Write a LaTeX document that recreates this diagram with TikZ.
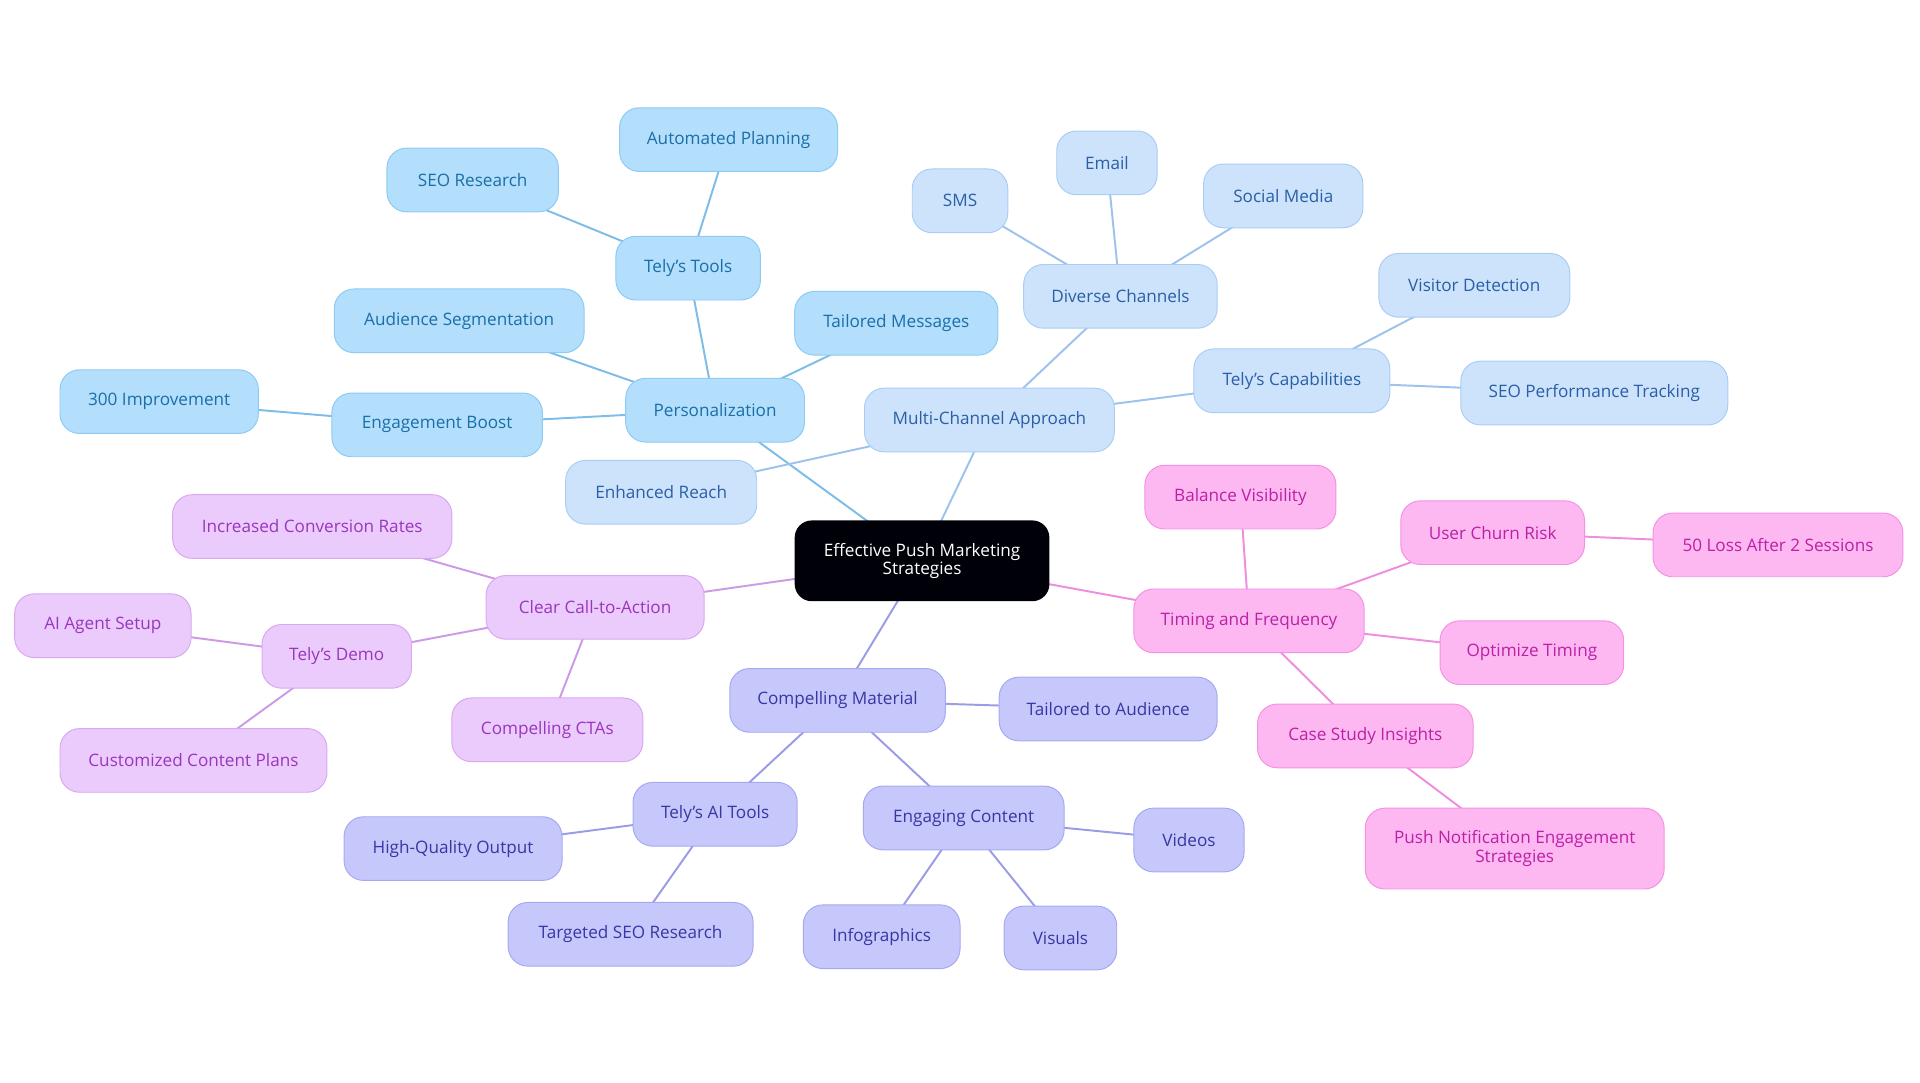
\documentclass[tikz,border=0pt]{standalone}
\usepackage{fontspec}
\setmainfont{Open Sans}
\usetikzlibrary{backgrounds}
\definecolor{bF}{HTML}{B3DEFC}\definecolor{bD}{HTML}{8CCBF4}\definecolor{bT}{HTML}{1A6FA8}\definecolor{bE}{HTML}{7EBDE8}
\definecolor{lF}{HTML}{CDE3FC}\definecolor{lD}{HTML}{A9CDF5}\definecolor{lT}{HTML}{2A5FA6}\definecolor{lE}{HTML}{9DC3EC}
\definecolor{pF}{HTML}{C6C8FB}\definecolor{pD}{HTML}{A6A9F2}\definecolor{pT}{HTML}{3A35A4}\definecolor{pE}{HTML}{9A9CE6}
\definecolor{vF}{HTML}{EBCBFB}\definecolor{vD}{HTML}{D8A8F0}\definecolor{vT}{HTML}{9A36BE}\definecolor{vE}{HTML}{CC9AE6}
\definecolor{kF}{HTML}{FDB8F2}\definecolor{kD}{HTML}{F491E4}\definecolor{kT}{HTML}{BC20A4}\definecolor{kE}{HTML}{EE8EDC}
\tikzset{
 box/.style={rounded corners=16pt,minimum height=52pt,inner sep=0pt,font=\fontsize{14}{15}\selectfont,line width=0.8pt,align=center},
 bb/.style={box,fill=bF,draw=bD,text=bT},
 ll/.style={box,fill=lF,draw=lD,text=lT},
 pp/.style={box,fill=pF,draw=pD,text=pT},
 vv/.style={box,fill=vF,draw=vD,text=vT},
 kk/.style={box,fill=kF,draw=kD,text=kT},
 ed/.style={line width=1.6pt}
}
\begin{document}
\begin{tikzpicture}[x=1pt,y=-1pt]
\useasboundingbox (0,0) rectangle (1568,884);
\node[box,fill=black!92!blue!40!black,draw=none,text=white,rounded corners=14pt,minimum width=208pt,minimum height=66pt,font=\fontsize{14}{15}\selectfont] (c) at (753,458) {Effective Push Marketing\\Strategies};
\node[bb,minimum width=146pt] (per) at (584,335) {Personalization};
\node[bb,minimum width=118pt] (tt) at (562,219) {Tely's Tools};
\node[bb,minimum width=140pt] (seo) at (386,147) {SEO Research};
\node[bb,minimum width=178pt] (ap) at (595,114) {Automated Planning};
\node[bb,minimum width=204pt] (as) at (375,262) {Audience Segmentation};
\node[bb,minimum width=166pt] (tm) at (732,264) {Tailored Messages};
\node[bb,minimum width=172pt] (eb) at (357,347) {Engagement Boost};
\node[bb,minimum width=162pt] (imp) at (130,328) {300 Improvement};
\node[ll,minimum width=204pt] (mc) at (808,343) {Multi-Channel Approach};
\node[ll,minimum width=156pt] (er) at (540,402) {Enhanced Reach};
\node[ll,minimum width=158pt] (dc) at (915,242) {Diverse Channels};
\node[ll,minimum width=78pt] (sms) at (784,164) {SMS};
\node[ll,minimum width=82pt] (em) at (904,133) {Email};
\node[ll,minimum width=130pt] (sm) at (1048,160) {Social Media};
\node[ll,minimum width=160pt] (tc) at (1055,311) {Tely's Capabilities};
\node[ll,minimum width=156pt] (vd) at (1204,233) {Visitor Detection};
\node[ll,minimum width=218pt] (spt) at (1302,321) {SEO Performance Tracking};
\node[pp,minimum width=176pt] (cm) at (684,572) {Compelling Material};
\node[pp,minimum width=178pt] (ta) at (905,579) {Tailored to Audience};
\node[pp,minimum width=134pt] (ai) at (584,665) {Tely's AI Tools};
\node[pp,minimum width=178pt] (hq) at (370,693) {High-Quality Output};
\node[pp,minimum width=200pt] (tsr) at (515,763) {Targeted SEO Research};
\node[pp,minimum width=164pt] (ec) at (787,668) {Engaging Content};
\node[pp,minimum width=90pt] (vid) at (971,686) {Videos};
\node[pp,minimum width=128pt] (inf) at (720,765) {Infographics};
\node[pp,minimum width=92pt] (vis) at (866,766) {Visuals};
\node[vv,minimum width=178pt] (cta) at (486,496) {Clear Call-to-Action};
\node[vv,minimum width=228pt] (icr) at (255,430) {Increased Conversion Rates};
\node[vv,minimum width=122pt] (td) at (275,536) {Tely's Demo};
\node[vv,minimum width=144pt] (aas) at (84,511) {AI Agent Setup};
\node[vv,minimum width=218pt] (ccp) at (158,621) {Customized Content Plans};
\node[vv,minimum width=156pt] (cc) at (447,596) {Compelling CTAs};
\node[kk,minimum width=188pt] (tf) at (1020,507) {Timing and Frequency};
\node[kk,minimum width=156pt] (bv) at (1013,406) {Balance Visibility};
\node[kk,minimum width=150pt] (ucr) at (1219,435) {User Churn Risk};
\node[kk,minimum width=204pt] (loss) at (1452,445) {50 Loss After 2 Sessions};
\node[kk,minimum width=150pt] (ot) at (1251,533) {Optimize Timing};
\node[kk,minimum width=176pt] (csi) at (1115,601) {Case Study Insights};
\node[kk,minimum width=244pt,minimum height=66pt] (pne) at (1237,693) {Push Notification Engagement\\Strategies};
\begin{scope}[on background layer]
\draw[ed,bE] (c.center)--(per.center) (per.center)--(tt.center) (tt.center)--(seo.center) (tt.center)--(ap.center) (per.center)--(as.center) (per.center)--(tm.center) (per.center)--(eb.center) (eb.center)--(imp.center);
\draw[ed,lE] (c.center)--(mc.center) (mc.center)--(er.center) (mc.center)--(dc.center) (dc.center)--(sms.center) (dc.center)--(em.center) (dc.center)--(sm.center) (mc.center)--(tc.center) (tc.center)--(vd.center) (tc.center)--(spt.center);
\draw[ed,pE] (c.center)--(cm.center) (cm.center)--(ta.center) (cm.center)--(ai.center) (ai.center)--(hq.center) (ai.center)--(tsr.center) (cm.center)--(ec.center) (ec.center)--(vid.center) (ec.center)--(inf.center) (ec.center)--(vis.center);
\draw[ed,vE] (c.center)--(cta.center) (cta.center)--(icr.center) (cta.center)--(td.center) (td.center)--(aas.center) (td.center)--(ccp.center) (cta.center)--(cc.center);
\draw[ed,kE] (c.center)--(tf.center) (tf.center)--(bv.center) (tf.center)--(ucr.center) (ucr.center)--(loss.center) (tf.center)--(ot.center) (tf.center)--(csi.center) (csi.center)--(pne.center);
\end{scope}
\end{tikzpicture}
\end{document}
